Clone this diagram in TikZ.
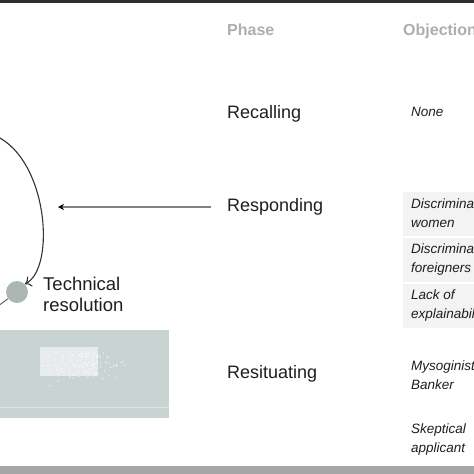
\documentclass[tikz,border=0pt]{standalone}
\usepackage{fontspec}
\setmainfont{Liberation Sans}
\usepackage{tikz}
\usetikzlibrary{arrows.meta, positioning, calc}
\definecolor{phgray}{RGB}{170, 175, 177}
\definecolor{arrgray}{RGB}{128, 130, 130}
\definecolor{dotgray}{RGB}{172, 182, 181}
\definecolor{boxgray}{RGB}{243, 243, 243}
\definecolor{imgsage}{RGB}{201, 211, 210}
\definecolor{barbot}{RGB}{166, 166, 166}
\definecolor{bartop}{RGB}{45, 45, 45}
\definecolor{inkgray}{RGB}{30, 30, 30}

\tikzset{
  phase/.style={anchor=base west, inner sep=2pt, font=\fontsize{18}{20}\selectfont, text=inkgray},
  header/.style={anchor=base west, inner sep=2pt, font=\fontsize{16}{18}\selectfont\bfseries, text=phgray},
  objection/.style={anchor=base west, inner sep=0pt, align=left,
    font=\fontsize{13.5}{19}\selectfont\itshape, text=inkgray},
  objbox/.style={fill=boxgray, draw=none},
}

\begin{document}
\begin{tikzpicture}[x=1pt, y=-1pt, >=Stealth]

  % --- frame ---
  \useasboundingbox (0,0) rectangle (474,474);
  \clip (0,0) rectangle (474,474);

  % --- objection boxes ---
  \fill[objbox] (403,192) rectangle (480,236);
  \fill[objbox] (403,238) rectangle (480,282);
  \fill[objbox] (403,284) rectangle (480,328);

  % --- headers ---
  \node[header] (phasehead) at (225,35) {Phase};
  \node[header] (objhead) at (401,35) {Objections};

  % --- phases ---
  \node[phase] (recalling) at (225,118) {Recalling};
  \node[phase] (responding) at (225,211) {Responding};
  \node[phase] (resituating) at (225,378) {Resituating};

  % --- objections (anchored on the last line) ---
  \node[objection] (none) at (411,116) {None};
  \node[objection] (women) at (411,227) {Discrimination\\women};
  \node[objection] (foreign) at (411,272) {Discrimination\\foreigners};
  \node[objection] (explain) at (411,318) {Lack of\\explainability};
  \node[objection] (banker) at (411,389) {Mysoginistic\\Banker};
  \node[objection] (skeptic) at (411,452) {Skeptical\\applicant};

  % --- technical resolution loop ---
  \node[circle, fill=dotgray, minimum size=22pt, inner sep=0pt] (techdot) at (17,292) {};
  \node[anchor=base west, align=left, inner sep=0pt, font=\fontsize{18.5}{21}\selectfont, text=inkgray]
    (techlabel) at (43,311) {Technical\\resolution};
  \coordinate (loopstart) at (-4,136);
  \coordinate (loopout) at (-10,312);
  \draw[->, line width=1.1pt, black!80, >={To[length=6pt, width=11pt]}]
    (loopstart) .. controls (48,160) and (56,268) .. (techdot.north east);
  \draw[thick, black!70] (techdot) -- (loopout);

  % --- responding arrow ---
  \coordinate (resptip) at (58,207);
  \draw[->, line width=1.5pt, arrgray, shorten <=14pt, >={Stealth[length=6pt, width=6pt, black]}]
    (responding.west |- resptip) -- (resptip);

  % --- screenshot placeholder ---
  \fill[imgsage] (0,330) rectangle (169,418);
  \fill[white!55!imgsage] (40,347) rectangle (98,376);
  \pgfmathsetseed{11}
  \foreach \i in {1,...,140} {
    \pgfmathsetmacro{\dx}{40+60*rnd+45*rnd*rnd}
    \pgfmathsetmacro{\dy}{350+25*rnd+12*rnd*rnd}
    \fill[white, opacity=0.85] (\dx,\dy) circle (0.7pt);
  }
  \draw[white!40!imgsage, line width=0.6pt] (0,407) -- (169,407);

  % --- bars ---
  \fill[bartop] (0,0) rectangle (474,2.5);
  \fill[barbot] (0,466) rectangle (474,474);

\end{tikzpicture}
\end{document}
